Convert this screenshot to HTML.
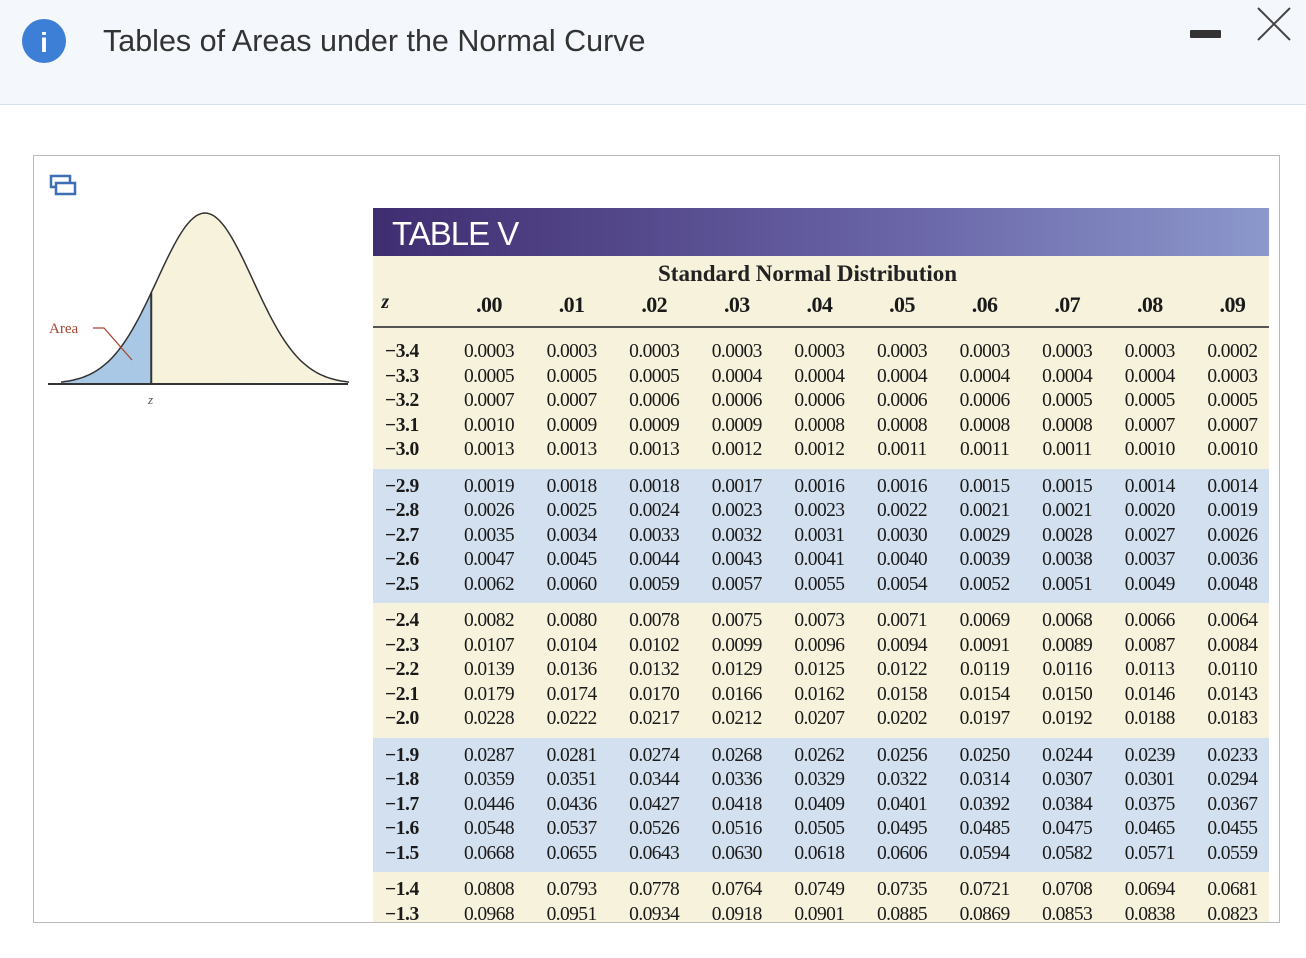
<!DOCTYPE html>
<html><head><meta charset="utf-8">
<style>
body{margin:0;width:1306px;height:958px;overflow:hidden;background:#fff;font-family:"Liberation Sans",sans-serif;position:relative}
#hdr{position:absolute;left:0;top:0;width:1306px;height:104px;background:#f4f7fb;border-bottom:1px solid #d8e0ea}
#box{position:absolute;left:33px;top:155px;width:1245px;height:766px;border:1px solid #b9b9b9;overflow:hidden}
.t{position:absolute;font-family:"Liberation Serif",serif;font-size:19.5px;color:#1a1a1a;white-space:nowrap;transform:translateX(-50%);letter-spacing:-0.6px}
.z{font-weight:bold;transform:none;letter-spacing:-0.4px}
</style></head><body>
<div id="hdr">
<svg style="position:absolute;left:22px;top:19px" width="46" height="46"><circle cx="22" cy="22" r="22" fill="#3d7fd6"/><text x="22" y="33" text-anchor="middle" font-family="Liberation Sans" font-weight="bold" font-size="28" fill="#fff">i</text></svg>
<div style="position:absolute;left:103px;top:24px;font-size:30.5px;color:#333">Tables of Areas under the Normal Curve</div>
<div style="position:absolute;left:1190px;top:30px;width:31px;height:8px;background:#333;border-radius:1px"></div>
<svg style="position:absolute;left:1256px;top:6px" width="36" height="36"><path d="M2 2L34 34M34 2L2 34" stroke="#444" stroke-width="2"/></svg>
</div>
<div id="box"></div>
<svg style="position:absolute;left:48px;top:172px" width="30" height="26"><rect x="3" y="4" width="19" height="11" fill="none" stroke="#3d6fb5" stroke-width="2.5"/><rect x="8" y="11" width="19" height="11" fill="#fff" stroke="#3d6fb5" stroke-width="2.5"/></svg>
<svg id="curve" style="position:absolute;left:40px;top:200px" width="320" height="210"></svg>
<div id="tbl" style="position:absolute;left:373px;top:208px;width:896px;height:714px;background:#f6f2dc;overflow:hidden">
<div style="position:absolute;left:0;top:0;width:896px;height:48px;background:linear-gradient(90deg,#3f2d70,#6a66a8 60%,#8c98cc)"><span style="position:absolute;left:19px;top:7px;color:#fff;font-size:33px;letter-spacing:-1px">TABLE V</span></div>
<div style="position:absolute;left:0;width:896px;top:53px;font-family:'Liberation Serif',serif;font-weight:bold;font-size:23px;color:#222"><span style="position:absolute;left:285px">Standard Normal Distribution</span></div>
<div style="position:absolute;left:0;top:118px;width:896px;height:2px;background:#555"></div>
</div>
<script>
const zLabels=["−3.4","−3.3","−3.2","−3.1","−3.0","−2.9","−2.8","−2.7","−2.6","−2.5","−2.4","−2.3","−2.2","−2.1","−2.0","−1.9","−1.8","−1.7","−1.6","−1.5","−1.4","−1.3"];
const colLabels=[".00",".01",".02",".03",".04",".05",".06",".07",".08",".09"];
const rows=[
"0003 0003 0003 0003 0003 0003 0003 0003 0003 0002","0005 0005 0005 0004 0004 0004 0004 0004 0004 0003","0007 0007 0006 0006 0006 0006 0006 0005 0005 0005","0010 0009 0009 0009 0008 0008 0008 0008 0007 0007","0013 0013 0013 0012 0012 0011 0011 0011 0010 0010",
"0019 0018 0018 0017 0016 0016 0015 0015 0014 0014","0026 0025 0024 0023 0023 0022 0021 0021 0020 0019","0035 0034 0033 0032 0031 0030 0029 0028 0027 0026","0047 0045 0044 0043 0041 0040 0039 0038 0037 0036","0062 0060 0059 0057 0055 0054 0052 0051 0049 0048",
"0082 0080 0078 0075 0073 0071 0069 0068 0066 0064","0107 0104 0102 0099 0096 0094 0091 0089 0087 0084","0139 0136 0132 0129 0125 0122 0119 0116 0113 0110","0179 0174 0170 0166 0162 0158 0154 0150 0146 0143","0228 0222 0217 0212 0207 0202 0197 0192 0188 0183",
"0287 0281 0274 0268 0262 0256 0250 0244 0239 0233","0359 0351 0344 0336 0329 0322 0314 0307 0301 0294","0446 0436 0427 0418 0409 0401 0392 0384 0375 0367","0548 0537 0526 0516 0505 0495 0485 0475 0465 0455","0668 0655 0643 0630 0618 0606 0594 0582 0571 0559",
"0808 0793 0778 0764 0749 0735 0721 0708 0694 0681","0968 0951 0934 0918 0901 0885 0869 0853 0838 0823"];
const T=document.getElementById('tbl');
const colX=c=>116+c*82.6, rowY=i=>144+Math.floor(i/5)*134.5+(i%5)*24.6-11;
for(let g=1;g<5;g+=2){const b=document.createElement('div');


b.style.cssText=`position:absolute;left:0;width:896px;top:${144+g*134.5-18}px;height:134.5px;background:#d3e0ef`;T.appendChild(b);}
function add(txt,x,y,cls,name){const d=document.createElement('div');d.className='t '+cls;d.textContent=txt;d.style.left=x+'px';d.style.top=y+'px';


T.appendChild(d);return d;}
const zh=add('z',12,84,'','z-header');zh.style.fontStyle='italic';zh.style.fontWeight='bold';
colLabels.forEach((c,j)=>{const d=add(c,colX(j),84,'','col-header');d.style.fontWeight='bold';d.style.fontSize='22px';});
rows.forEach((r,i)=>{add(zLabels[i],12,rowY(i),'z','z-value');r.split(' ').forEach((v,j)=>add('0.'+v,colX(j),rowY(i),'','cell-value'));});
const S=document.getElementById('curve');
const cx=165,sd=48,base=184,h=171;const px=x=>cx+x*sd,py=x=>base-h*Math.exp(-x*x/2);
let p='',sh='M'+px(-3)+' '+base;
for(let x=-3;x<=3.01;x+=0.05){p+=(p?'L':'M')+px(x).toFixed(1)+' '+py(x).toFixed(1);}
for(let x=-3;x<=-1.12;x+=0.05)sh+='L'+px(x).toFixed(1)+' '+py(x).toFixed(1);
sh+='L'+px(-1.12)+' '+py(-1.12)+'L'+px(-1.12)+' '+base+'Z';
let fill='M'+px(-3)+' '+base+p.replace(/^M/,'L')+'Z';
S.innerHTML=`<path d="${fill}" fill="#f6f2dc"/><path d="${sh}" fill="#a9c8e6"/><path d="${p}" fill="none" stroke="#333" stroke-width="1.5"/>
<line x1="8" y1="${base}" x2="308" y2="${base}" stroke="#333" stroke-width="2"/><line x1="${px(-1.12)}" y1="${py(-1.12)}" x2="${px(-1.12)}" y2="${base}" stroke="#333" stroke-width="2"/>
<text x="9" y="133" font-family="Liberation Serif" font-size="15" fill="#a8442f">Area</text><path d="M53 128H64L92 160" fill="none" stroke="#a8442f" stroke-width="1.2"/>
<text x="108" y="204" font-family="Liberation Serif" font-style="italic" font-size="13" fill="#555">z</text>`;
</script>
</body></html>
